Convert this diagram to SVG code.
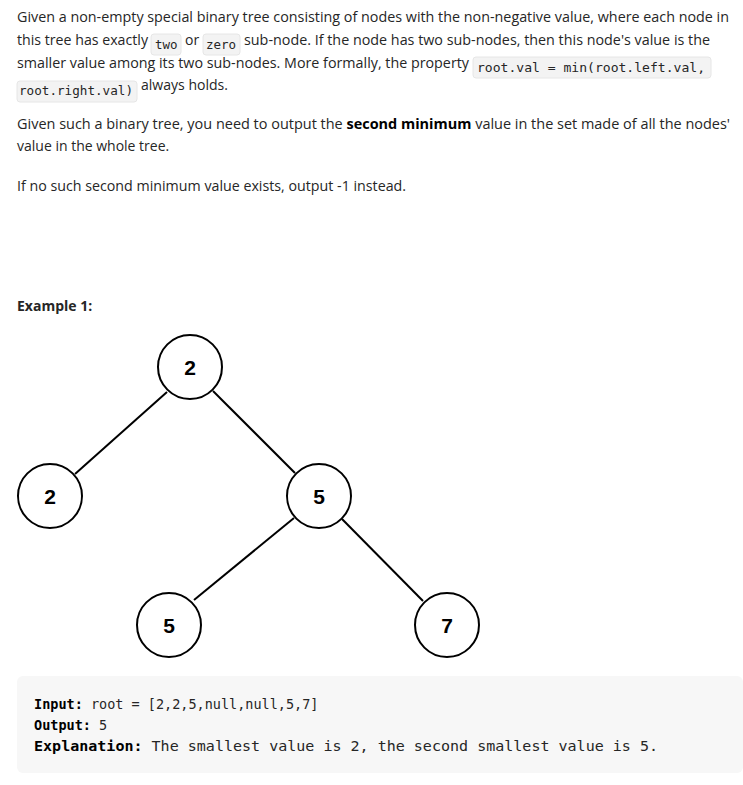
<svg xmlns="http://www.w3.org/2000/svg" width="743" height="785" viewBox="0 0 743 785">
<style>
.t{font-family:"Open Sans","Noto Sans",sans-serif;font-size:14px;fill:#262626}
.c{font-family:"DejaVu Sans Mono","Liberation Mono",monospace;font-size:12.5px;fill:#262626}
.cb{fill:#f3f3f3;stroke:#e6e6e6;stroke-width:1}
.n circle{fill:#fff;stroke:#000;stroke-width:2}
.n text{font-family:"Liberation Sans",Arial,sans-serif;font-weight:bold;font-size:21px;text-anchor:middle;fill:#000}
.m{font-family:"DejaVu Sans Mono","Liberation Mono",monospace;font-size:13.5px;fill:#262626}
.mb{font-weight:bold;fill:#000}
</style>
<rect width="743" height="785" fill="#fff"/>
<rect class="cb" x="151" y="34" width="30" height="21" rx="3"/>
<rect class="cb" x="203" y="34" width="37" height="21" rx="3"/>
<rect class="cb" x="473" y="57" width="238" height="21" rx="3"/>
<rect class="cb" x="17" y="81" width="120" height="21" rx="3"/>
<text class="t" x="17" y="22" textLength="712" lengthAdjust="spacingAndGlyphs">Given a non-empty special binary tree consisting of nodes with the non-negative value, where each node in</text>
<text class="t" x="17" y="45" textLength="131" lengthAdjust="spacingAndGlyphs">this tree has exactly</text>
<text class="c" x="155" y="49">two</text>
<text class="t" x="185" y="45">or</text>
<text class="c" x="206" y="49">zero</text>
<text class="t" x="244" y="45" textLength="466" lengthAdjust="spacingAndGlyphs">sub-node. If the node has two sub-nodes, then this node's value is the</text>
<text class="t" x="17" y="68" textLength="452" lengthAdjust="spacingAndGlyphs">smaller value among its two sub-nodes. More formally, the property</text>
<text class="c" x="477" y="72" textLength="228" lengthAdjust="spacingAndGlyphs">root.val = min(root.left.val,</text>
<text class="c" x="19" y="95" textLength="114" lengthAdjust="spacingAndGlyphs">root.right.val)</text>
<text class="t" x="141" y="90" textLength="87" lengthAdjust="spacingAndGlyphs">always holds.</text>
<text class="t" x="17" y="129" textLength="713" lengthAdjust="spacingAndGlyphs">Given such a binary tree, you need to output the <tspan font-weight="bold" fill="#000">second minimum</tspan> value in the set made of all the nodes'</text>
<text class="t" x="17" y="151">value in the whole tree.</text>
<text class="t" x="17" y="191" textLength="389" lengthAdjust="spacingAndGlyphs">If no such second minimum value exists, output -1 instead.</text>
<text class="t" x="17" y="311" font-weight="bold" fill="#000">Example 1:</text>
<g id="edges" stroke="#000" stroke-width="2">
<line x1="167" y1="392" x2="75" y2="474"/>
<line x1="213" y1="391" x2="295" y2="473"/>
<line x1="294" y1="518" x2="194" y2="600"/>
<line x1="342" y1="519" x2="423" y2="601"/>
</g>
<g id="n1" class="n"><circle cx="190" cy="367" r="32"/><text x="190" y="375">2</text></g>
<g id="n2" class="n"><circle cx="50" cy="496" r="32"/><text x="50" y="504">2</text></g>
<g id="n3" class="n"><circle cx="319" cy="496" r="32"/><text x="319" y="504">5</text></g>
<g id="n4" class="n"><circle cx="169" cy="625" r="32"/><text x="169" y="633">5</text></g>
<g id="n5" class="n"><circle cx="447" cy="625" r="32"/><text x="447" y="633">7</text></g>
<rect x="17" y="676" width="726" height="97" rx="6" fill="#f7f7f7"/>
<text class="m" x="34" y="709"><tspan class="mb">Input:</tspan> root = [2,2,5,null,null,5,7]</text>
<text class="m" x="34" y="730"><tspan class="mb">Output:</tspan> 5</text>
<text class="m" x="34" y="751" textLength="624" lengthAdjust="spacingAndGlyphs"><tspan class="mb">Explanation:</tspan> The smallest value is 2, the second smallest value is 5.</text>
</svg>
